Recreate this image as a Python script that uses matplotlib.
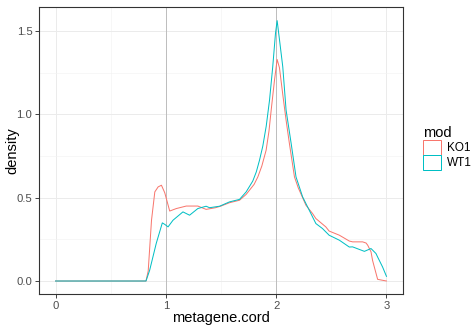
import matplotlib
matplotlib.use("Agg")
import matplotlib.pyplot as plt
from matplotlib.patches import Patch

plt.rcParams['font.family'] = ['Liberation Sans', 'DejaVu Sans']

# density curves
ko1_x = [0.0, 0.82, 0.84, 0.87, 0.90, 0.93, 0.96, 0.99, 1.035, 1.095, 1.185, 1.29, 1.365, 1.45, 1.50,
         1.577, 1.668, 1.728, 1.80, 1.834, 1.87, 1.909, 1.935, 1.955, 1.985, 2.009, 2.03, 2.06, 2.09, 2.12,
         2.166, 2.20, 2.27, 2.33, 2.36, 2.45, 2.48, 2.573, 2.663, 2.693, 2.784, 2.815, 2.83, 2.86,
         2.874, 2.89, 2.92, 3.0]
ko1_y = [0.0, 0.0, 0.06, 0.365, 0.535, 0.565, 0.575, 0.53, 0.42, 0.435, 0.45, 0.45, 0.43, 0.44, 0.45,
         0.47, 0.485, 0.52, 0.58, 0.625, 0.69, 0.785, 0.9, 1.026, 1.206, 1.33, 1.28, 1.12, 0.966, 0.826,
         0.625, 0.56, 0.455, 0.405, 0.375, 0.325, 0.3, 0.275, 0.24, 0.235, 0.235, 0.228, 0.215, 0.175,
         0.124, 0.084, 0.01, 0.0]

wt1_x = [0.0, 0.82, 0.853, 0.913, 0.968, 0.99, 1.02, 1.065, 1.155, 1.215, 1.29, 1.365, 1.396, 1.487,
         1.577, 1.668, 1.728, 1.788, 1.82, 1.849, 1.879, 1.91, 1.94, 1.969, 1.994, 2.009, 2.03, 2.06, 2.09,
         2.136, 2.18, 2.24, 2.27, 2.33, 2.36, 2.42, 2.48, 2.573, 2.663, 2.693, 2.8, 2.86, 2.905, 2.92,
         2.965, 3.0]
wt1_y = [0.0, 0.0, 0.064, 0.226, 0.349, 0.34, 0.325, 0.365, 0.415, 0.395, 0.435, 0.449, 0.44, 0.449,
         0.475, 0.49, 0.535, 0.6, 0.655, 0.725, 0.81, 0.93, 1.086, 1.286, 1.487, 1.563, 1.45, 1.286, 1.026,
         0.826, 0.625, 0.505, 0.465, 0.385, 0.345, 0.315, 0.275, 0.245, 0.204, 0.205, 0.178, 0.195, 0.165,
         0.144, 0.084, 0.028]

series = ['KO1', 'WT1']
colors = ['#F8766D', '#00BFC4']
vlines = [1, 2]

k = 96 / 72  # ggplot sizes drawn at 96 dpi

fig = plt.figure(figsize=(474 / 72, 331 / 72), dpi=72)
ax = fig.add_axes([39 / 474, 37 / 331, 364 / 474, 287 / 331])

ax.set_xlim(-0.15, 3.15)
ax.set_ylim(-0.078, 1.645)
ax.set_xticks([0, 1, 2, 3])
ax.set_yticks([0.0, 0.5, 1.0, 1.5])
ax.set_yticklabels(['0.0', '0.5', '1.0', '1.5'])
ax.set_xticks([0.5, 1.5, 2.5], minor=True)
ax.set_yticks([0.25, 0.75, 1.25], minor=True)
ax.grid(which='major', color='#EBEBEB', lw=1.0)
ax.grid(which='minor', color='#F2F2F2', lw=0.6)
ax.tick_params(which='minor', length=0)
ax.tick_params(which='major', length=2.75 * k, width=0.9, color='#333333', labelcolor='#4D4D4D',
               labelsize=8.4 * k, pad=2.2 * k)
ax.set_axisbelow(True)
for s in ax.spines.values():
    s.set_color('#333333')
    s.set_linewidth(1.1)

for v in vlines:
    ax.axvline(v, color='#BEBEBE', lw=1.0, zorder=1)

ax.plot(ko1_x, ko1_y, color=colors[0], lw=1.0, zorder=3)
ax.plot(wt1_x, wt1_y, color=colors[1], lw=1.0, zorder=3)

ax.set_xlabel('metagene.cord', fontsize=11 * k, va='center')
ax.set_ylabel('density', fontsize=11 * k, va='center')
ax.xaxis.set_label_coords(0.5, -24 / 287)
ax.yaxis.set_label_coords(-27 / 364, 0.5)

handles = [Patch(facecolor='white', edgecolor=c, lw=1.0) for c in colors]
leg = fig.legend(handles, series, title='mod', loc='upper left', bbox_to_anchor=(415 / 474, 1 - 118 / 331),
                 frameon=False, fontsize=8.8 * k, title_fontsize=11 * k, handlelength=1.55, handleheight=1.55,
                 labelspacing=0, handletextpad=0.45, borderpad=0.2)
leg._legend_box.align = 'left'

fig.savefig('out.png', dpi=72)
